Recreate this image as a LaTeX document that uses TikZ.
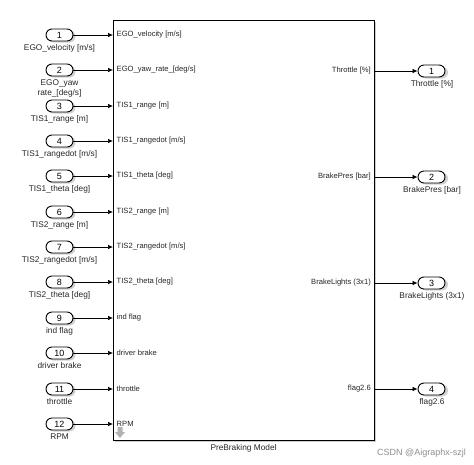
\documentclass[tikz,border=0pt]{standalone}
\usepackage{fontspec}
\setmainfont{Liberation Sans}
\usetikzlibrary{arrows.meta}
\definecolor{txt}{HTML}{262626}
\tikzset{
  port/.style={draw=black, line width=0.9pt, rounded corners=6pt, minimum width=27pt, minimum height=12pt, inner sep=0pt, font=\fontsize{9}{9}\selectfont, fill=white},
  lbl/.style={font=\fontsize{8.3}{10}\selectfont, text=txt, inner sep=0pt, align=center},
  inl/.style={font=\fontsize{7.6}{9}\selectfont, text=txt, inner sep=0pt, anchor=west},
  outl/.style={font=\fontsize{7.6}{9}\selectfont, text=txt, inner sep=0pt, anchor=east},
  wire/.style={line width=0.7pt, -{Latex[length=5pt,width=4.5pt]}},
  shade/.style={fill=black!25, draw=none}
}
\begin{document}
\begin{tikzpicture}[x=1pt,y=-1pt]
\useasboundingbox (0,0) rectangle (474,464);
% block shadow
\fill[black!20] (115,22) rectangle (376,442);
\node[draw=black, line width=0.9pt, fill=white, minimum width=261pt, minimum height=420pt, inner sep=0pt] (blk) at (243.5,230) {};
\node[lbl, anchor=north] (bname) at (243.5,444) {PreBraking Model};
% small icon
\fill[black!30] (117.5,427) -- (122.5,427) -- (122.5,432) -- (125,432) -- (120,438) -- (115,432) -- (117.5,432) -- cycle;
% inputs
\foreach \i/\y/\inner/\outer in {
 1/35/{EGO\_velocity [m/s]}/{EGO\_velocity [m/s]},
 2/70/{EGO\_yaw\_rate\_[deg/s]}/{EGO\_yaw\\rate\_[deg/s]},
 3/106/{TIS1\_range [m]}/{TIS1\_range [m]},
 4/141/{TIS1\_rangedot [m/s]}/{TIS1\_rangedot [m/s]},
 5/176/{TIS1\_theta [deg]}/{TIS1\_theta [deg]},
 6/212/{TIS2\_range [m]}/{TIS2\_range [m]},
 7/247/{TIS2\_rangedot [m/s]}/{TIS2\_rangedot [m/s]},
 8/282/{TIS2\_theta [deg]}/{TIS2\_theta [deg]},
 9/318/{ind flag}/{ind flag},
 10/353/{driver brake}/{driver brake},
 11/389/{throttle}/{throttle},
 12/424/{RPM}/{RPM}}{
  \fill[black!18, rounded corners=6pt] (47.5,\y-4.5) rectangle (75.5,\y+7.5);
  \node[port] (in\i) at (59.5,\y) {\i};
  \node[lbl, anchor=north] (inlab\i) at (59.5,\y+9.5) {\outer};
  \coordinate (bi\i) at (113,\y);
  \node[inl] (ipl\i) at (116.5,\y) {\inner};
  \draw[wire] (in\i) -- (bi\i);
}
% outputs
\foreach \i/\y/\name in {
 1/71/{Throttle [\%]},
 2/177/{BrakePres [bar]},
 3/283/{BrakeLights (3x1)},
 4/389/{flag2.6}}{
  \fill[black!18, rounded corners=6pt] (420,\y-4.5) rectangle (448,\y+7.5);
  \node[port] (out\i) at (431.5,\y) {\i};
  \node[lbl, anchor=north] (outlab\i) at (432,\y+9.5) {\name};
  \coordinate (bo\i) at (374,\y);
  \node[outl] (opl\i) at (371,\y) {\name};
  \draw[wire] (bo\i) -- (out\i);
}
\node[font=\fontsize{9}{10}\selectfont, text=black!45, anchor=east, inner sep=0pt] (wm) at (466,453) {CSDN @Aigraphx-szjl};
\end{tikzpicture}
\end{document}
